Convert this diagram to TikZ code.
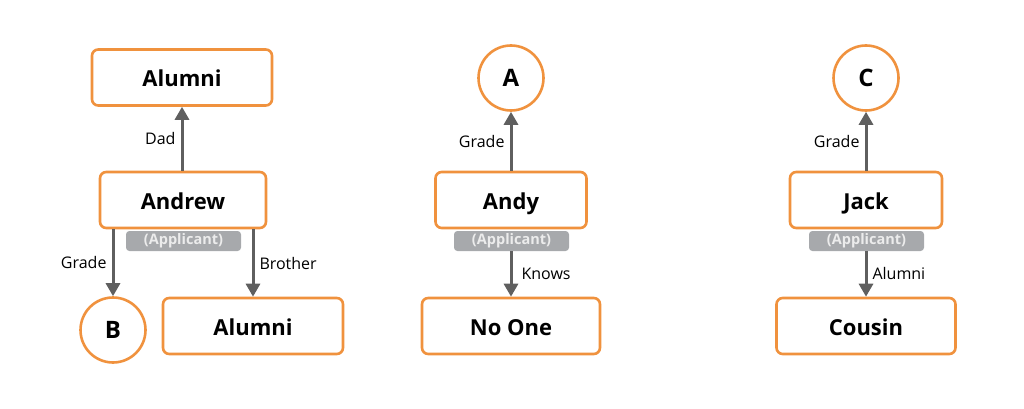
\documentclass[tikz,border=0pt]{standalone}
\usepackage{fontspec}
\setmainfont{Open Sans}
\usetikzlibrary{arrows.meta,calc}
\definecolor{boxorange}{HTML}{F0923E}
\definecolor{tagGray}{HTML}{A7A9AC}
\definecolor{tagText}{HTML}{ECECEC}
\definecolor{arrowGray}{HTML}{5F5F5F}

\begin{document}
\begin{tikzpicture}[x=1pt,y=-1pt,
  box/.style={draw=boxorange,line width=2.6pt,rounded corners=2.2mm,fill=white,
    minimum height=56,inner sep=0pt,text height=20pt,text depth=2pt,
    font=\fontsize{22}{26}\selectfont\bfseries},
  grade/.style={circle,draw=boxorange,line width=2.6pt,fill=white,
    minimum size=65,inner sep=0pt,font=\fontsize{24}{28}\selectfont\bfseries},
  tag/.style={fill=tagGray,rounded corners=1.2mm,minimum width=115,minimum height=20,
    inner sep=0pt,text=tagText,font=\fontsize{14.5}{17}\selectfont\bfseries},
  rel/.style={draw=arrowGray,line width=3pt,-{Triangle[width=14pt,length=13pt]}},
  lbl/.style={font=\fontsize{16}{19}\selectfont,text=black,inner sep=5pt}]
\useasboundingbox (0,0) rectangle (1024,409);

% first applicant
\node[box,minimum width=180] (A1) at (182,77.5) {Alumni};
\node[box,minimum width=166] (Andrew) at (183,200) {Andrew};
\node[tag] (T1) at (183.5,241) {(Applicant)};
\node[grade] (B) at (113,330) {B};
\node[box,minimum width=180] (A2) at (253,326) {Alumni};
\draw[rel] (Andrew.north -| A1.south) -- (A1.south) node[midway,lbl,left] {Dad};
\draw[rel] (Andrew.south -| B.north) -- (B.north) node[midway,lbl,left] {Grade};
\draw[rel] (Andrew.south -| A2.north) -- (A2.north) node[midway,lbl,right] {Brother};

% second applicant
\node[grade] (GA) at (511,78) {A};
\node[box,minimum width=151] (Andy) at (511,200) {Andy};
\node[tag] (T2) at (511.5,241) {(Applicant)};
\node[box,minimum width=178] (NoOne) at (511,326) {No One};
\draw[rel] (Andy.north -| GA.south) -- (GA.south) node[midway,lbl,left] {Grade};
\draw[rel] (T2.south -| NoOne.north) -- (NoOne.north) node[midway,lbl,right,xshift=4] {Knows};

% third applicant
\node[grade] (GC) at (866,78) {C};
\node[box,minimum width=152] (Jack) at (866,200) {Jack};
\node[tag] (T3) at (866.5,241) {(Applicant)};
\node[box,minimum width=179] (Cousin) at (866,326) {Cousin};
\draw[rel] (Jack.north -| GC.south) -- (GC.south) node[midway,lbl,left] {Grade};
\draw[rel] (T3.south -| Cousin.north) -- (Cousin.north) node[midway,lbl,right] {Alumni};
\end{tikzpicture}
\end{document}
